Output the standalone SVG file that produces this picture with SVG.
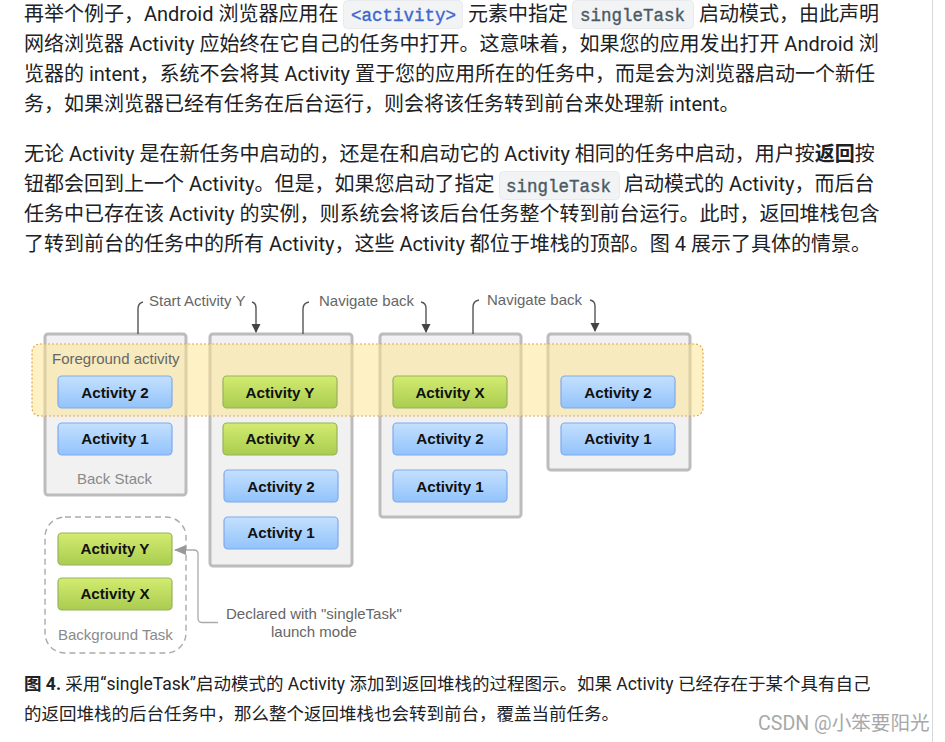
<svg xmlns="http://www.w3.org/2000/svg" width="945" height="742" viewBox="0 0 945 742">
<style>
.b{font:20px Roboto,"Noto Sans CJK SC",sans-serif;fill:#202124}
.c{font:17.5px Roboto,"Noto Sans CJK SC",sans-serif;fill:#202124}
.m{font:17.5px "Liberation Mono","DejaVu Sans Mono",monospace;stroke-width:.35}
.chip{fill:#f1f3f4;stroke:#e8eaed}
.stack{fill:#f1f1f1;stroke:#bcbcbc;stroke-width:3}
.act{stroke-width:1.2}
.blue{fill:url(#bl);stroke:#7fa9ee}
.green{fill:url(#gr);stroke:#96b35c}
.at{font:bold 15.2px "Liberation Sans",Arial,sans-serif;fill:#111;text-anchor:middle}
.l{font:15px "Liberation Sans",Arial,sans-serif;fill:#666}
.g{font:15px "Liberation Sans",Arial,sans-serif;fill:#8a8a8a}
.con{fill:none;stroke:#555;stroke-width:1.4}
</style>
<defs>
<linearGradient id="bl" x1="0" y1="0" x2="0" y2="1"><stop offset="0" stop-color="#c4e0fe"/><stop offset="1" stop-color="#92c3fb"/></linearGradient>
<linearGradient id="gr" x1="0" y1="0" x2="0" y2="1"><stop offset="0" stop-color="#d3ec70"/><stop offset="1" stop-color="#a9cc50"/></linearGradient>
<marker id="ah" markerUnits="userSpaceOnUse" markerWidth="10" markerHeight="12" refX="8" refY="5" orient="auto"><path d="M0 0L10 5L0 10Z" fill="#444" transform="translate(-1 0)"/></marker>
<marker id="ag" markerUnits="userSpaceOnUse" markerWidth="13" markerHeight="10" refX="11" refY="5" orient="auto"><path d="M0 0L12 5L0 10Z" fill="#999"/></marker>
</defs>
<rect width="945" height="742" fill="#fff"/>
<rect x="932" y="0" width="1" height="742" fill="#d8d8d8"/>

<g id="text-top">
<rect class="chip" x="343.500" y="0.500" width="119" height="28" rx="4"/>
<text class="m" x="351" y="21" fill="#3b66d1" stroke="#3b66d1">&lt;activity&gt;</text>
<rect class="chip" x="572.500" y="0.500" width="121" height="28" rx="4"/>
<text class="m" x="580" y="21" fill="#4b5a63" stroke="#4b5a63">singleTask</text>
<text class="b" x="24" y="21">再举个例子，Android 浏览器应用在</text>
<text class="b" x="468" y="21">元素中指定</text>
<text class="b" x="699" y="21">启动模式，由此声明</text>
<text class="b" x="24" y="51">网络浏览器 Activity 应始终在它自己的任务中打开。这意味着，如果您的应用发出打开 Android 浏</text>
<text class="b" x="24" y="81">览器的 intent，系统不会将其 Activity 置于您的应用所在的任务中，而是会为浏览器启动一个新任</text>
<text class="b" x="24" y="111">务，如果浏览器已经有任务在后台运行，则会将该任务转到前台来处理新 intent。</text>
<text class="b" x="24" y="161">无论 Activity 是在新任务中启动的，还是在和启动它的 Activity 相同的任务中启动，用户按<tspan font-weight="700">返回</tspan>按</text>
<text class="b" x="24" y="191">钮都会回到上一个 Activity。但是，如果您启动了指定</text>
<rect class="chip" x="499.500" y="171.500" width="120" height="28" rx="4"/>
<text class="m" x="506" y="192" fill="#4b5a63" stroke="#4b5a63">singleTask</text>
<text class="b" x="624" y="191">启动模式的 Activity，而后台</text>
<text class="b" x="24" y="221">任务中已存在该 Activity 的实例，则系统会将该后台任务整个转到前台运行。此时，返回堆栈包含</text>
<text class="b" x="24" y="251">了转到前台的任务中的所有 Activity，这些 Activity 都位于堆栈的顶部。图 4 展示了具体的情景。</text>
</g>

<g id="stack-1"><rect class="stack" x="45" y="334" width="141" height="161" rx="3"/></g>
<g id="stack-2"><rect class="stack" x="210" y="334" width="142" height="232" rx="3"/></g>
<g id="stack-3"><rect class="stack" x="380" y="334" width="141" height="183" rx="3"/></g>
<g id="stack-4"><rect class="stack" x="548" y="334" width="142" height="136" rx="3"/></g>
<g id="foreground-band"><rect x="32" y="344" width="671" height="72" rx="8" fill="#fce48c" fill-opacity=".5" stroke="#e5a84b" stroke-width="1.200" stroke-dasharray="2 2"/></g>
<text class="l" x="52" y="364">Foreground activity</text>
<text class="g" x="77" y="484">Back Stack</text>

<g id="s1-a2"><rect class="act blue" x="58" y="376" width="114" height="32" rx="4"/><text class="at" x="115" y="398">Activity 2</text></g>
<g id="s1-a1"><rect class="act blue" x="58" y="423" width="114" height="32" rx="4"/><text class="at" x="115" y="444">Activity 1</text></g>
<g id="s2-ay"><rect class="act green" x="223" y="376" width="114" height="32" rx="4"/><text class="at" x="280" y="398">Activity Y</text></g>
<g id="s2-ax"><rect class="act green" x="223" y="423" width="114" height="32" rx="4"/><text class="at" x="280" y="444">Activity X</text></g>
<g id="s2-a2"><rect class="act blue" x="224" y="470" width="114" height="32" rx="4"/><text class="at" x="281" y="492">Activity 2</text></g>
<g id="s2-a1"><rect class="act blue" x="224" y="517" width="114" height="32" rx="4"/><text class="at" x="281" y="538">Activity 1</text></g>
<g id="s3-ax"><rect class="act green" x="393" y="376" width="114" height="32" rx="4"/><text class="at" x="450" y="398">Activity X</text></g>
<g id="s3-a2"><rect class="act blue" x="393" y="423" width="114" height="32" rx="4"/><text class="at" x="450" y="444">Activity 2</text></g>
<g id="s3-a1"><rect class="act blue" x="393" y="470" width="114" height="32" rx="4"/><text class="at" x="450" y="492">Activity 1</text></g>
<g id="s4-a2"><rect class="act blue" x="561" y="376" width="114" height="32" rx="4"/><text class="at" x="618" y="398">Activity 2</text></g>
<g id="s4-a1"><rect class="act blue" x="561" y="423" width="114" height="32" rx="4"/><text class="at" x="618" y="444">Activity 1</text></g>

<g id="background-task">
<rect x="45" y="517" width="141" height="136" rx="20" fill="none" stroke="#aaa" stroke-width="1.400" stroke-dasharray="6 4"/>
<text class="g" x="58" y="640">Background Task</text>
</g>
<g id="bg-ay"><rect class="act green" x="58" y="533" width="114" height="32" rx="4"/><text class="at" x="115" y="554">Activity Y</text></g>
<g id="bg-ax"><rect class="act green" x="58" y="578" width="114" height="32" rx="4"/><text class="at" x="115" y="599">Activity X</text></g>

<g id="connectors">
<path class="con" d="M138 334V309Q138 303 143 302"/>
<path class="con" d="M252 302Q256 303 256 308V332" marker-end="url(#ah)"/>
<path class="con" d="M303 334V309Q303 303 309 302"/>
<path class="con" d="M421 302Q426 303 426 308V332" marker-end="url(#ah)"/>
<path class="con" d="M473 334V307Q473 301 479 300"/>
<path class="con" d="M590 300Q595 301 595 306V331" marker-end="url(#ah)"/>
<path d="M218 622.500H202Q198 622.500 198 618V554Q198 550 194 550H175" fill="none" stroke="#aaa" stroke-width="1.300" marker-end="url(#ag)"/>
</g>

<text class="l" x="149" y="306">Start Activity Y</text>
<text class="l" x="319" y="306">Navigate back</text>
<text class="l" x="487" y="305">Navigate back</text>
<text class="l" x="226" y="619">Declared with "singleTask"</text>
<text class="l" x="271" y="637">launch mode</text>

<g id="caption">
<text class="c" x="24" y="690"><tspan font-weight="700">图 4.</tspan> 采用“singleTask”启动模式的 Activity 添加到返回堆栈的过程图示。如果 Activity 已经存在于某个具有自己</text>
<text class="c" x="24" y="720">的返回堆栈的后台任务中，那么整个返回堆栈也会转到前台，覆盖当前任务。</text>
</g>
<text x="758" y="730" font-family="Roboto,'Noto Sans CJK SC',sans-serif" font-size="19.600" fill="#a8a8a8">CSDN @小笨要阳光</text>
</svg>
